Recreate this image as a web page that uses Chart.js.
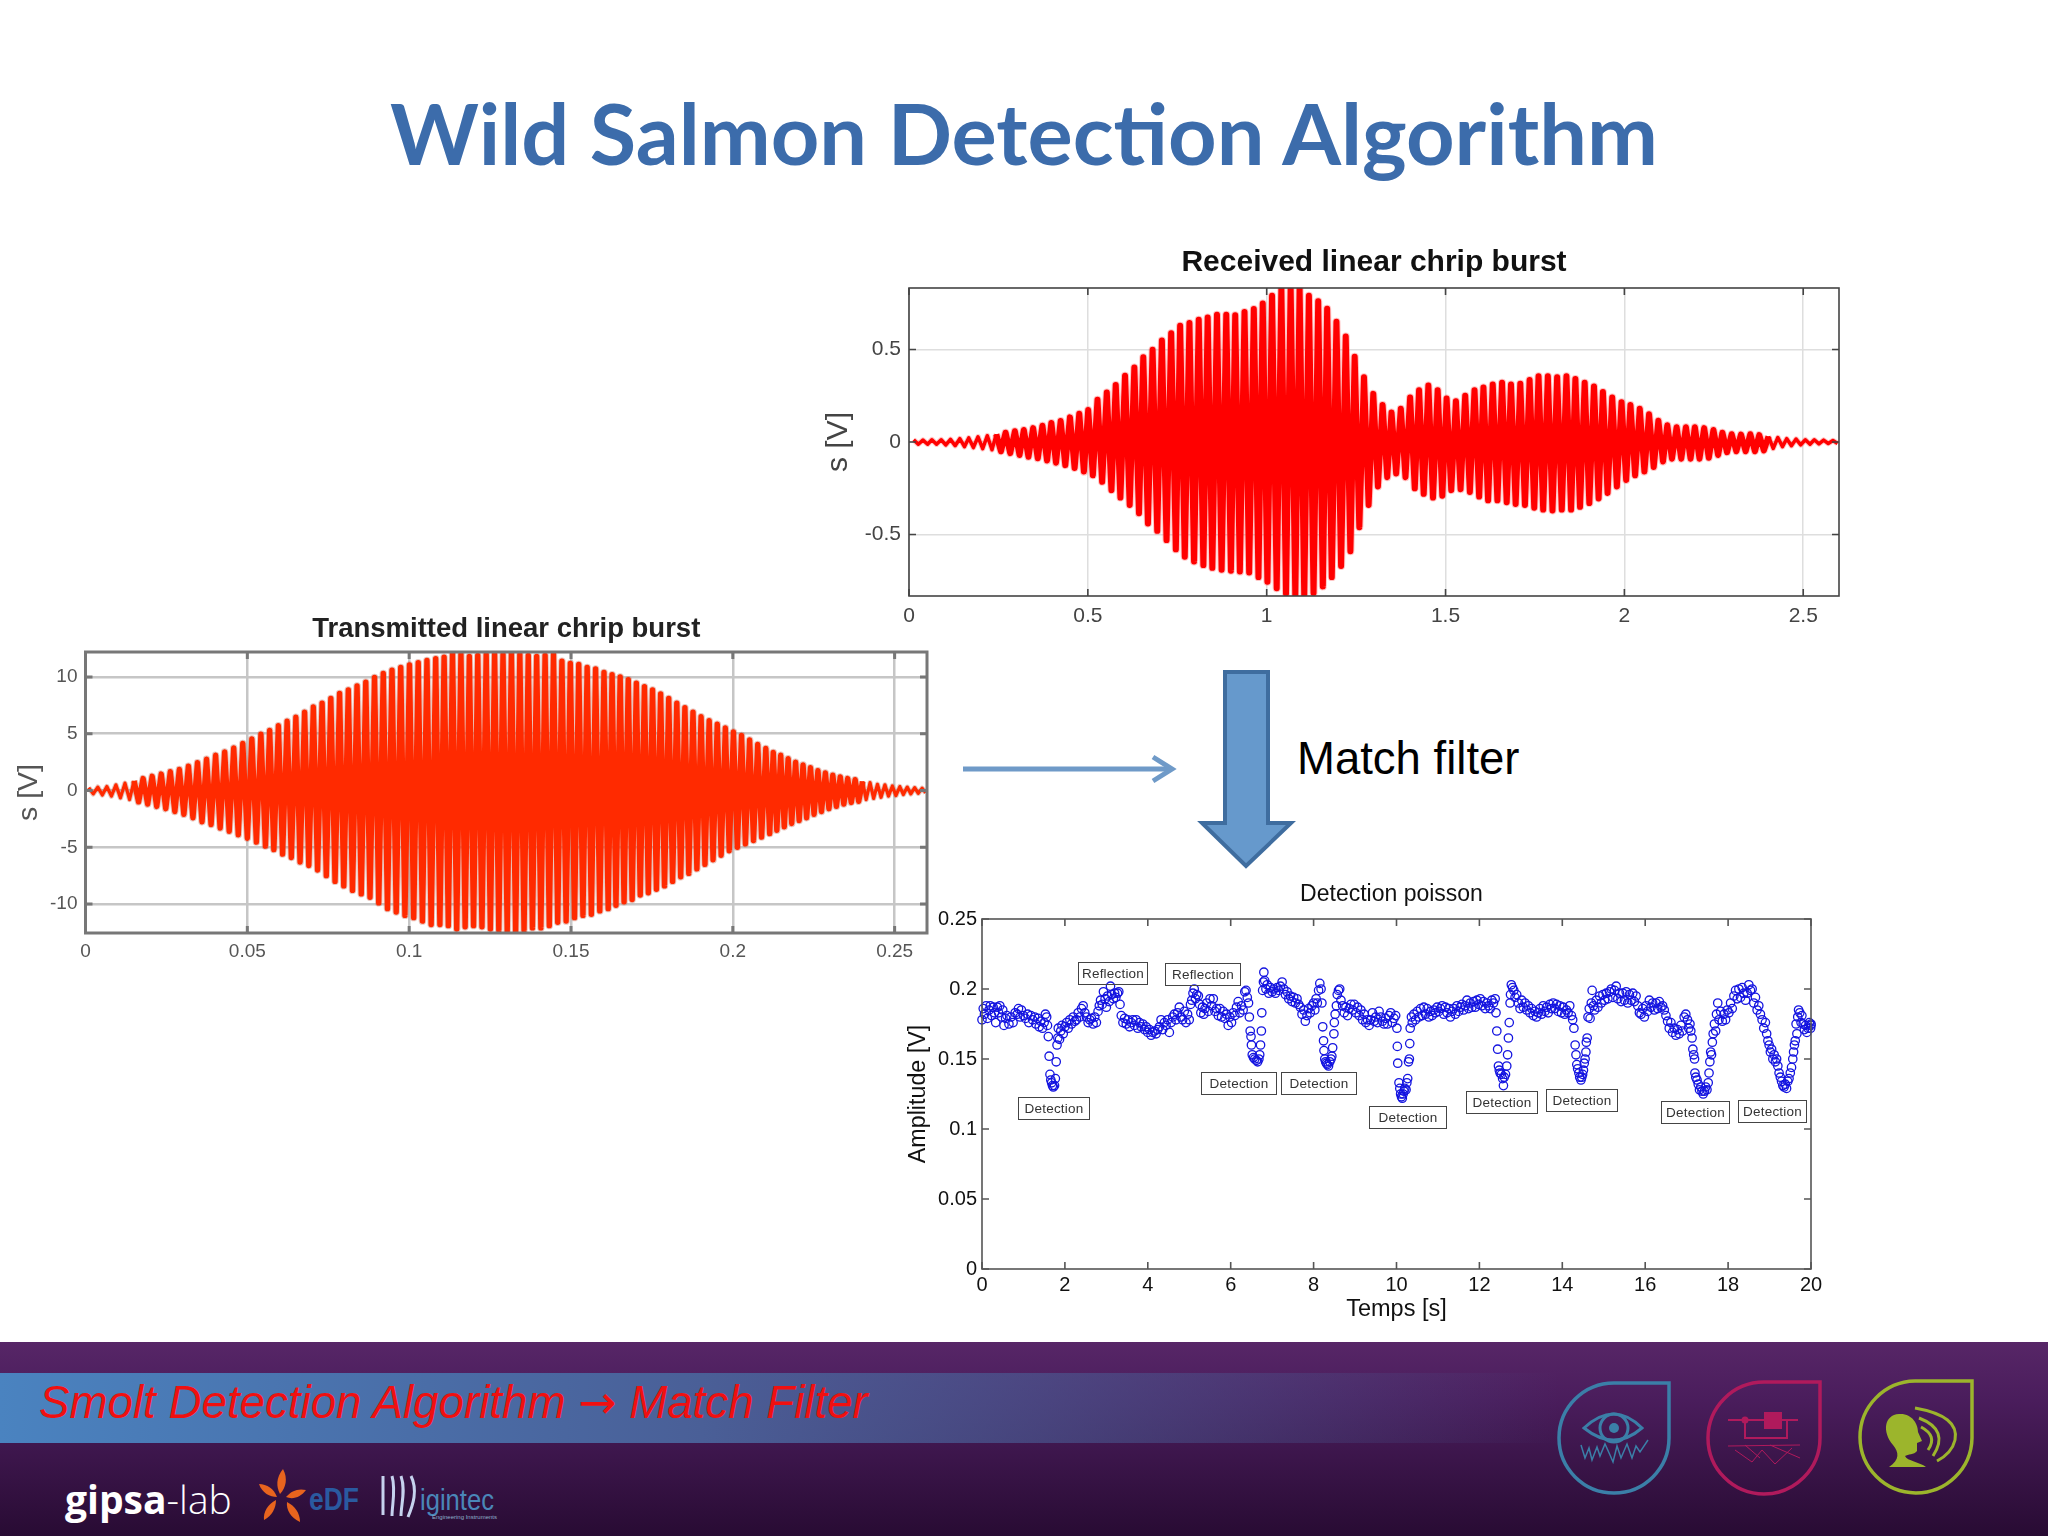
<!DOCTYPE html>
<html>
<head>
<meta charset="utf-8">
<script src="https://cdn.jsdelivr.net/npm/chart.js@4/dist/chart.umd.min.js"></script>
<style>
  html, body { margin: 0; padding: 0; background: #fff; }
  #page { position: relative; width: 2048px; height: 1536px; overflow: hidden; font-family: "Liberation Sans", Arial, sans-serif; }
  #page canvas { position: absolute; }
  #decor { position: absolute; left: 0; top: 0; }
  #title { position: absolute; left: 0; width: 2048px; top: 81px; text-align: center; font: 700 84.7px Lato, sans-serif; color: #3c6cab; white-space: nowrap; }
  .note { position: absolute; box-sizing: border-box; border: 1.5px solid #444; color: #333; font-size: 13.5px; letter-spacing: .2px; text-align: center; line-height: 21px; height: 23px; }
  #smolt { position: absolute; left: 39px; top: 1376px; font: italic 400 45.7px "Liberation Sans", sans-serif; color: #f01010; white-space: nowrap; }
  #smolt span { font-family: "DejaVu Sans"; }
</style>
</head>
<body>
<div id="page">
  <svg id="decor" width="2048" height="1536">
    <defs>
      <linearGradient id="foot" x1="0" y1="0" x2="0" y2="1">
        <stop offset="0" stop-color="#572667"/><stop offset=".3" stop-color="#4a1d5c"/><stop offset="1" stop-color="#280b33"/>
      </linearGradient>
      <linearGradient id="band" x1="0" y1="0" x2="1" y2="0">
        <stop offset="0" stop-color="#4a83c0"/><stop offset=".45" stop-color="#4a5f97"/><stop offset="1" stop-color="#4a5f97" stop-opacity="0"/>
      </linearGradient>
    </defs>
    <rect x="0" y="1342" width="2048" height="194" fill="url(#foot)"/>
    <rect x="0" y="1373" width="1560" height="70" fill="url(#band)"/>

    <!-- fleche + match filter -->
    <line x1="963" y1="769" x2="1168" y2="769" stroke="#6f9ac8" stroke-width="5"/>
    <path d="M1153 757 L1172 769 L1153 781" fill="none" stroke="#6f9ac8" stroke-width="5"/>
    <path d="M1225 672 H1268 V823 H1291 L1246 866 L1202 823 H1225 Z" fill="#6699cc" stroke="#3f6d9f" stroke-width="4"/>
    <text x="1297" y="774" font-size="45.5" fill="#000" font-family="Liberation Sans">Match filter</text>

    <!-- logos -->
    <text x="65" y="1514" font-size="39" fill="#fff" font-family="Open Sans"><tspan font-weight="700">gipsa</tspan><tspan font-weight="300">-lab</tspan></text>
    <g fill="#e8641e">
      <path d="M283 1469 C276 1478 276 1486 280 1494 C286 1488 288 1478 283 1469 Z"/>
      <path d="M259 1484 C262 1493 270 1497 277 1497 C274 1489 267 1484 259 1484 Z"/>
      <path d="M306 1490 C298 1488 291 1491 286 1497 C293 1500 301 1497 306 1490 Z"/>
      <path d="M264 1520 C272 1516 276 1508 276 1500 C268 1504 263 1512 264 1520 Z"/>
      <path d="M300 1522 C300 1513 295 1506 287 1502 C286 1510 291 1518 300 1522 Z"/>
    </g>
    <text x="309" y="1510" font-size="32" font-weight="700" fill="#2a5aa0" font-family="Liberation Sans" textLength="50" lengthAdjust="spacingAndGlyphs">eDF</text>
    <g fill="none" stroke="#c6d2ee" stroke-width="3">
      <path d="M383 1476 V1515"/><path d="M392 1476 C396 1490 392 1505 392 1516"/>
      <path d="M401 1476 C406 1490 401 1505 401 1516"/><path d="M411 1476 C418 1490 413 1505 408 1517"/>
    </g>
    <text x="420" y="1510" font-size="29" fill="#4a86b8" font-family="Liberation Sans" textLength="74" lengthAdjust="spacingAndGlyphs">igintec</text>
    <text x="432" y="1519" font-size="6" fill="#8fb0cc" font-family="Liberation Sans">Engineering Instruments</text>

    <!-- pictos -->
    <g fill="none" stroke-width="3.5">
      <path d="M1669 1383 H1614 A55 55 0 1 0 1669 1438 Z" stroke="#3b7fa8"/>
      <path d="M1820 1382 H1764 A56 56 0 1 0 1820 1438 Z" stroke="#b01a5c"/>
      <path d="M1972 1381 H1915 A56 56 0 1 0 1972 1438 Z" stroke="#9cb52c"/>
    </g>
    <g fill="none" stroke="#3b7fa8" stroke-width="3">
      <path d="M1584 1428 Q1614 1400 1642 1428 Q1614 1452 1584 1428 Z"/>
      <circle cx="1614" cy="1428" r="14"/>
      <path stroke-width="1.5" d="M1581 1445 L1585 1458 L1589 1448 L1592 1460 L1597 1447 L1600 1456 L1605 1444 L1610 1455 L1613 1462 L1617 1446 L1621 1458 L1627 1444 L1632 1458 L1636 1446 L1640 1452 L1648 1440"/>
    </g>
    <circle cx="1614" cy="1428" r="5" fill="#3b7fa8"/>
    <g fill="none" stroke="#b01a5c" stroke-width="2">
      <path d="M1728 1420 H1798"/><path d="M1745 1420 V1438 H1787 V1420"/>
      <path stroke-width="1" d="M1728 1446 L1800 1445 M1735 1450 L1752 1462 L1762 1450 L1775 1464 L1792 1448 M1745 1445 L1760 1458 M1770 1445 L1800 1458"/>
    </g>
    <circle cx="1745" cy="1420" r="3.5" fill="#b01a5c"/>
    <rect x="1764" y="1412" width="18" height="17" fill="#b01a5c"/>
    <path d="M1889 1467 C1900 1460 1899 1452 1893 1445 C1882 1432 1884 1415 1899 1414 C1912 1413 1918 1424 1918 1432 L1922 1441 L1917 1443 L1917 1451 C1914 1455 1908 1454 1905 1456 C1907 1461 1920 1462 1926 1467 Z" fill="#9cb52c"/>
    <g fill="none" stroke="#9cb52c" stroke-width="3">
      <path d="M1921 1427 Q1938 1436 1928 1450"/><path d="M1919 1418 Q1950 1430 1933 1456"/><path d="M1915 1408 Q1960 1416 1955 1440 Q1952 1453 1937 1461"/>
    </g>
  </svg>
  <div id="title">Wild Salmon Detection Algorithm</div>
  <div id="smolt">Smolt Detection Algorithm <span>→</span> Match Filter</div>

  <canvas id="recu" width="1045" height="388" style="left:824px;top:248px"></canvas>
  <canvas id="emis" width="932" height="357" style="left:15px;top:616px"></canvas>
  <canvas id="poisson" width="944" height="438" style="left:907px;top:883px"></canvas>

  <div class="note" style="left:1078px;top:962px;width:70px">Reflection</div>
  <div class="note" style="left:1165px;top:963px;width:76px">Reflection</div>
  <div class="note" style="left:1018px;top:1097px;width:72px">Detection</div>
  <div class="note" style="left:1201px;top:1072px;width:76px">Detection</div>
  <div class="note" style="left:1281px;top:1072px;width:76px">Detection</div>
  <div class="note" style="left:1369px;top:1106px;width:78px">Detection</div>
  <div class="note" style="left:1466px;top:1091px;width:72px">Detection</div>
  <div class="note" style="left:1546px;top:1089px;width:72px">Detection</div>
  <div class="note" style="left:1661px;top:1101px;width:69px">Detection</div>
  <div class="note" style="left:1738px;top:1100px;width:69px">Detection</div>
</div>

<script>
// Received linear chrip burst
const recuPicT = [.013,.039,.064,.09,.116,.142,.167,.193,.219,.244,.27,.296,.321,.347,.373,.398,.424,.45,.476,.501,
  .527,.553,.578,.604,.63,.655,.681,.707,.733,.758,.784,.81,.835,.861,.887,.912,.938,.964,.989,1.015,
  1.041,1.067,1.092,1.118,1.144,1.169,1.195,1.221,1.246,1.272,1.298,1.324,1.349,1.375,1.401,1.426,1.452,1.478,1.503,1.529,
  1.555,1.581,1.606,1.632,1.658,1.683,1.709,1.735,1.76,1.786,1.812,1.838,1.863,1.889,1.915,1.94,1.966,1.992,2.017,2.043,
  2.069,2.095,2.12,2.146,2.172,2.197,2.223,2.249,2.274,2.3,2.326,2.352,2.377,2.403,2.429,2.454,2.48,2.506,2.531,2.557,2.583];
const recuPic = [.012,.01,.012,.012,.014,.018,.022,.028,.034,.042,
  .05,.058,.065,.075,.088,.103,.113,.133,.153,.173,
  .228,.268,.308,.358,.403,.458,.498,.548,.588,.628,
  .643,.66,.673,.688,.688,.685,.703,.718,.748,.79,
  .83,.83,.83,.79,.76,.72,.65,.57,.46,.35,
  .26,.2,.16,.18,.24,.28,.305,.28,.235,.22,
  .25,.28,.295,.31,.32,.31,.315,.335,.355,.355,
  .35,.355,.34,.32,.3,.27,.24,.215,.2,.18,
  .15,.115,.09,.08,.08,.08,.075,.065,.05,.042,
  .04,.042,.037,.03,.024,.018,.016,.012,.012,.01,.008];
const recuCreuxT = [.026,.052,.077,.103,.129,.155,.18,.206,.232,.257,.283,.309,.334,.36,.386,.411,.437,.463,.489,.514,
  .54,.566,.591,.617,.643,.668,.694,.72,.746,.771,.797,.823,.848,.874,.9,.925,.951,.977,1.002,1.028,
  1.054,1.08,1.105,1.131,1.157,1.182,1.208,1.234,1.259,1.285,1.311,1.337,1.362,1.388,1.414,1.439,1.465,1.491,1.516,1.542,
  1.568,1.594,1.619,1.645,1.671,1.696,1.722,1.748,1.773,1.799,1.825,1.851,1.876,1.902,1.928,1.953,1.979,2.005,2.03,2.056,
  2.082,2.108,2.133,2.159,2.185,2.21,2.236,2.262,2.287,2.313,2.339,2.365,2.39,2.416,2.442,2.467,2.493,2.519,2.544,2.57,2.596];
const recuCreux = [-.012,-.012,-.012,-.016,-.02,-.025,-.03,-.036,-.042,-.05,
  -.06,-.07,-.08,-.088,-.1,-.112,-.125,-.14,-.16,-.18,
  -.215,-.26,-.3,-.34,-.385,-.44,-.48,-.53,-.58,-.62,
  -.645,-.665,-.68,-.69,-.695,-.7,-.705,-.73,-.755,-.79,
  -.82,-.83,-.83,-.815,-.78,-.73,-.67,-.59,-.46,-.34,
  -.24,-.19,-.17,-.19,-.25,-.28,-.3,-.29,-.26,-.255,
  -.27,-.295,-.315,-.315,-.325,-.335,-.34,-.355,-.365,-.37,
  -.365,-.365,-.35,-.33,-.305,-.275,-.24,-.205,-.18,-.16,
  -.135,-.105,-.09,-.09,-.09,-.09,-.085,-.07,-.055,-.05,
  -.05,-.05,-.045,-.035,-.025,-.02,-.015,-.012,-.01,-.008,-.008];
const recuTicksX = [0,.5,1,1.5,2,2.5];
const recuTicksY = [-.5,0,.5];

// Transmitted linear chrip burst
const emisPicT = [.001,.0038,.0066,.0094,.0122,.015,.0178,.0206,.0234,.0262,.029,.0318,.0346,.0374,.0402,.043,.0458,.0486,.0514,.0542,
  .0569,.0596,.0623,.065,.0677,.0704,.0731,.0758,.0785,.0812,.0839,.0866,.0893,.092,.0947,.0974,.1001,.1028,.1055,.1082,
  .1108,.1134,.116,.1186,.1212,.1238,.1264,.129,.1316,.1342,.1368,.1394,.142,.1446,.1472,.1498,.1524,.155,.1576,.1602,
  .1627,.1652,.1677,.1702,.1727,.1752,.1777,.1802,.1827,.1852,.1877,.1902,.1927,.1952,.1977,.2002,.2027,.2052,.2077,.2102,
  .2125,.2148,.2171,.2194,.2217,.224,.2263,.2286,.2309,.2332,.2355,.2378,.2401,.2424,.2447,.247,.2493,.2516,.2539,.2562,.2585];
const emisPic = [.25,.3,.35,.5,.65,.85,1.05,1.25,1.45,1.65,1.85,2.15,2.45,2.75,3.1,3.4,3.75,4.15,4.55,4.95,
  5.3,5.7,6.1,6.45,6.9,7.35,7.7,8.1,8.55,8.85,9.2,9.55,9.95,10.3,10.6,10.85,11.05,11.25,11.45,11.6,
  11.75,12.2,12,11.8,11.9,12,12,12,12.2,12,11.9,11.8,11.9,12,11.4,11.2,11.1,10.85,10.7,10.4,
  10.2,10,9.75,9.45,9.15,8.85,8.5,8.1,7.7,7.3,6.9,6.5,6.15,5.85,5.5,5.15,4.85,4.45,4.05,3.7,
  3.35,3.1,2.8,2.5,2.25,2,1.75,1.55,1.35,1.2,1.05,.95,.8,.7,.55,.5,.4,.35,.3,.25,.2];
const emisCreuxT = [.0024,.0052,.008,.0108,.0136,.0164,.0192,.022,.0248,.0276,.0304,.0332,.036,.0388,.0416,.0444,.0472,.05,.0528,.0556,
  .0582,.0609,.0636,.0663,.069,.0717,.0744,.0771,.0798,.0825,.0852,.0879,.0906,.0933,.096,.0987,.1014,.1041,.1068,.1095,
  .1121,.1147,.1173,.1199,.1225,.1251,.1277,.1303,.1329,.1355,.1381,.1407,.1433,.1459,.1485,.1511,.1537,.1563,.1589,.1615,
  .1639,.1664,.1689,.1714,.1739,.1764,.1789,.1814,.1839,.1864,.1889,.1914,.1939,.1964,.1989,.2014,.2039,.2064,.2089,.2114,
  .2136,.2159,.2182,.2205,.2228,.2251,.2274,.2297,.232,.2343,.2366,.2389,.2412,.2435,.2458,.2481,.2504,.2527,.255,.2573,.2596];
const emisCreux = [-.3,-.4,-.5,-.65,-.8,-1,-1.2,-1.4,-1.6,-1.85,-2.1,-2.4,-2.75,-3,-3.3,-3.6,-3.9,-4.2,-4.55,-4.9,
  -5.2,-5.6,-5.9,-6.3,-6.6,-7,-7.5,-8,-8.4,-8.8,-9.1,-9.4,-9.9,-10.4,-10.7,-11,-11.2,-11.5,-11.8,-11.8,
  -11.9,-12.2,-12,-11.9,-12,-12.2,-12.3,-12.4,-12.55,-12.3,-12.1,-12.1,-11.9,-11.6,-11.5,-11.2,-11,-10.9,-10.6,-10.4,
  -10.1,-9.8,-9.6,-9.2,-9,-8.7,-8.4,-8,-7.6,-7.3,-6.9,-6.5,-6.1,-5.7,-5.3,-5,-4.7,-4.4,-4.1,-3.8,
  -3.5,-3.2,-2.9,-2.65,-2.4,-2.1,-1.85,-1.6,-1.4,-1.2,-1.05,-.95,-.8,-.7,-.6,-.5,-.45,-.35,-.3,-.25,-.2];
const emisTicksX = [0,.05,.1,.15,.2,.25];
const emisTicksY = [-10,-5,0,5,10];

// Detection poisson
const temps = [
  0,.03,.06,.1,.13,.17,.2,.23,.27,.3, .33,.37,.4,.43,.47,.5,.53,.57,.6,.65,
  .7,.75,.8,.85,.88,.92,.95,1,1.05,1.1, 1.13,1.18,1.22,1.27,1.3,1.35,1.38,1.42,1.46,1.5,
  1.53,1.56,1.58,1.6,1.62,1.64,1.66,1.68,1.7,1.72, 1.75,1.77,1.79,1.81,1.83,1.84,1.87,1.9,1.93,1.96,
  2,2.04,2.08,2.12,2.16,2.2,2.24,2.28,2.32,2.36, 2.4,2.44,2.48,2.52,2.56,2.6,2.64,2.68,2.72,2.76,
  2.8,2.83,2.86,2.9,2.93,2.97,3,3.03,3.07,3.1, 3.13,3.17,3.2,3.23,3.27,3.3,3.33,3.36,3.4,3.44,
  3.48,3.52,3.56,3.6,3.64,3.68,3.72,3.76,3.8,3.84, 3.88,3.92,3.96,4,4.04,4.08,4.12,4.16,4.2,4.24,
  4.28,4.32,4.36,4.4,4.44,4.48,4.52,4.56,4.6,4.64, 4.68,4.72,4.76,4.8,4.84,4.88,4.92,4.96,5,5.03,
  5.06,5.09,5.12,5.15,5.18,5.22,5.25,5.28,5.32,5.35, 5.38,5.42,5.46,5.5,5.54,5.58,5.62,5.66,5.7,5.74,
  5.78,5.82,5.86,5.9,5.94,5.98,6.02,6.06,6.1,6.14, 6.18,6.22,6.26,6.3,6.34,6.37,6.4,6.43,6.45,6.47,
  6.49,6.5,6.52,6.55,6.58,6.62,6.65,6.68,6.7,6.72, 6.74,6.75,6.77,6.79,6.8,6.82,6.85,6.88,6.92,6.96,
  7,7.04,7.08,7.12,7.16,7.2,7.24,7.28,7.32,7.36, 7.4,7.44,7.48,7.52,7.56,7.6,7.64,7.68,7.72,7.76,
  7.8,7.84,7.88,7.92,7.96,8,8.03,8.06,8.09,8.12, 8.15,8.18,8.2,8.22,8.24,8.25,8.27,8.29,8.31,8.33,
  8.36,8.39,8.42,8.44,8.46,8.49,8.5,8.52,8.55,8.57, 8.6,8.63,8.66,8.7,8.74,8.78,8.82,8.86,8.9,8.94,
  8.98,9.02,9.06,9.1,9.14,9.18,9.22,9.26,9.3,9.34, 9.38,9.42,9.46,9.5,9.54,9.58,9.62,9.66,9.7,9.74,
  9.78,9.82,9.86,9.9,9.94,9.98,10.01,10.02,10.03,10.06, 10.08,10.1,10.12,10.14,10.16,10.18,10.2,10.23,10.25,10.27,
  10.29,10.31,10.32,10.33,10.36,10.38,10.42,10.46,10.5,10.54, 10.58,10.62,10.66,10.7,10.74,10.78,10.82,10.86,10.9,10.94,
  10.98,11.02,11.06,11.1,11.14,11.18,11.22,11.26,11.3,11.34, 11.38,11.42,11.46,11.5,11.54,11.58,11.62,11.66,11.7,11.74,
  11.78,11.82,11.86,11.9,11.94,11.98,12.02,12.06,12.1,12.14, 12.18,12.22,12.26,12.3,12.34,12.38,12.4,12.42,12.44,12.46,
  12.48,12.5,12.53,12.56,12.58,12.6,12.63,12.66,12.68,12.7, 12.72,12.74,12.75,12.77,12.8,12.83,12.86,12.9,12.94,12.98,
  13.02,13.06,13.1,13.14,13.18,13.22,13.26,13.3,13.34,13.38, 13.42,13.46,13.5,13.54,13.58,13.62,13.66,13.7,13.74,13.78,
  13.82,13.86,13.9,13.94,13.98,14.02,14.06,14.1,14.14,14.18, 14.22,14.25,14.28,14.31,14.33,14.35,14.37,14.4,14.42,14.45,
  14.47,14.49,14.51,14.53,14.55,14.57,14.58,14.6,14.62,14.65, 14.67,14.7,14.72,14.75,14.78,14.82,14.86,14.9,14.94,14.98,
  15.02,15.06,15.1,15.14,15.18,15.22,15.26,15.3,15.34,15.38, 15.42,15.46,15.5,15.54,15.58,15.62,15.66,15.7,15.74,15.78,
  15.82,15.86,15.9,15.94,15.98,16.02,16.06,16.1,16.14,16.18, 16.22,16.26,16.3,16.34,16.38,16.42,16.46,16.5,16.54,16.58,
  16.62,16.66,16.7,16.74,16.78,16.82,16.86,16.9,16.94,16.98, 17.02,17.05,17.08,17.1,17.13,17.15,17.17,17.19,17.2,17.22,
  17.25,17.28,17.31,17.34,17.37,17.4,17.43,17.46,17.49,17.52, 17.54,17.56,17.58,17.6,17.62,17.64,17.67,17.7,17.72,17.75,
  17.78,17.82,17.86,17.9,17.94,17.98,18.02,18.06,18.1,18.14, 18.18,18.22,18.26,18.3,18.34,18.38,18.42,18.46,18.5,18.54,
  18.58,18.62,18.66,18.7,18.74,18.78,18.82,18.86,18.9,18.93, 18.96,18.99,19.02,19.05,19.08,19.11,19.14,19.17,19.2,19.23,
  19.26,19.29,19.32,19.35,19.38,19.41,19.44,19.47,19.5,19.53, 19.56,19.58,19.6,19.62,19.64,19.66,19.68,19.7,19.73,19.76,
  19.78,19.81,19.84,19.87,19.9,19.93,19.96,19.99,20,20];
const amplitude = [
  .178,.186,.182,.188,.179,.185,.188,.181,.187,.183, .176,.187,.183,.188,.18,.185,.174,.179,.181,.175,
  .18,.176,.183,.182,.186,.18,.185,.181,.179,.182, .176,.181,.178,.18,.175,.179,.173,.177,.172,.176,
  .182,.18,.174,.166,.152,.139,.135,.133,.131,.13, .131,.136,.148,.16,.165,.172,.164,.17,.174,.168,
  .173,.176,.172,.178,.175,.18,.177,.178,.183,.18, .186,.188,.183,.18,.176,.178,.179,.175,.18,.176,
  .184,.188,.192,.189,.198,.193,.187,.195,.191,.202, .196,.193,.197,.194,.197,.198,.189,.181,.176,.179,
  .175,.178,.173,.176,.178,.174,.178,.172,.176,.173, .175,.171,.173,.169,.171,.167,.169,.17,.168,.171,
  .173,.178,.171,.176,.174,.178,.169,.176,.18,.182, .178,.183,.187,.18,.178,.184,.176,.182,.178,.189,
  .192,.197,.2,.193,.196,.195,.189,.183,.187,.182, .186,.19,.184,.193,.188,.193,.184,.186,.181,.186,
  .18,.184,.179,.182,.174,.18,.176,.183,.181,.187, .191,.183,.188,.185,.198,.199,.194,.19,.18,.17,
  .166,.16,.153,.151,.15,.149,.148,.15,.153,.16, .17,.183,.199,.205,.212,.206,.2,.203,.197,.201,
  .198,.2,.197,.201,.199,.202,.205,.2,.196,.198, .193,.195,.191,.194,.19,.193,.189,.187,.182,.185,
  .177,.181,.186,.183,.188,.19,.185,.193,.19,.199, .204,.2,.19,.173,.163,.156,.15,.148,.147,.146,
  .145,.148,.15,.152,.158,.168,.176,.182,.188,.196, .199,.2,.192,.188,.183,.187,.181,.186,.189,.185,
  .189,.183,.187,.181,.185,.178,.182,.176,.178,.174, .178,.183,.177,.18,.176,.184,.18,.177,.175,.179,
  .175,.181,.183,.176,.179,.181,.172,.159,.147,.133, .129,.125,.123,.122,.125,.127,.129,.128,.133,.136,
  .148,.15,.161,.172,.18,.176,.182,.178,.184,.18, .186,.181,.187,.182,.186,.18,.184,.181,.185,.183,
  .187,.184,.186,.188,.182,.187,.183,.186,.18,.184, .186,.182,.188,.184,.187,.189,.185,.188,.192,.186,
  .19,.187,.191,.187,.192,.189,.193,.188,.191,.186, .19,.188,.186,.192,.19,.193,.183,.17,.157,.145,
  .142,.14,.139,.136,.131,.137,.139,.145,.153,.165, .176,.19,.196,.203,.201,.199,.194,.196,.19,.186,
  .192,.187,.19,.185,.188,.183,.186,.181,.184,.18, .183,.186,.182,.188,.184,.187,.183,.189,.186,.19,
  .186,.189,.184,.188,.183,.187,.182,.185,.183,.188, .181,.178,.172,.16,.153,.146,.143,.14,.137,.135,
  .137,.139,.142,.147,.15,.155,.162,.165,.18,.186, .179,.19,.199,.188,.185,.192,.187,.195,.19,.196,
  .192,.197,.193,.198,.2,.194,.199,.202,.193,.197, .191,.197,.192,.198,.19,.196,.192,.197,.191,.195,
  .188,.183,.182,.186,.18,.188,.184,.192,.187,.19, .185,.19,.186,.191,.187,.188,.185,.181,.177,.172,
  .176,.169,.172,.167,.171,.168,.174,.17,.18,.182, .178,.172,.175,.17,.165,.157,.153,.15,.14,.137,
  .135,.132,.128,.13,.127,.125,.127,.13,.128,.133, .14,.148,.155,.153,.162,.168,.175,.17,.182,.19,
  .178,.184,.177,.182,.178,.185,.183,.19,.186,.195, .199,.193,.2,.194,.201,.197,.192,.197,.203,.199,
  .2,.19,.194,.185,.188,.182,.178,.172,.176,.168, .163,.16,.155,.157,.15,.153,.148,.15,.145,.14,
  .137,.134,.131,.13,.132,.129,.134,.136,.14,.144, .15,.155,.16,.163,.175,.168,.18,.185,.183,.176,
  .181,.175,.171,.174,.169,.172,.176,.172,.175,.174];
const tempsTicks = [0,2,4,6,8,10,12,14,16,18,20];
const ampTicks = [0,.05,.1,.15,.2,.25];

// cadre et petits traits vers l'interieur, facon matlab
const cadre = {
  id: 'cadre',
  afterLayout(chart, args, opts) {
    if (opts.titleShift) {
      chart.titleBlock.left += opts.titleShift;
      chart.titleBlock.right += opts.titleShift;
    }
  },
  afterDatasetsDraw(chart, args, opts) {
    const { ctx, chartArea: a, scales: { x, y } } = chart;
    ctx.save();
    ctx.strokeStyle = opts.color;
    ctx.lineWidth = opts.width;
    ctx.strokeRect(a.left, a.top, a.right - a.left, a.bottom - a.top);
    ctx.beginPath();
    x.ticks.forEach(t => {
      const p = x.getPixelForValue(t.value);
      ctx.moveTo(p, a.bottom); ctx.lineTo(p, a.bottom - opts.tick);
      ctx.moveTo(p, a.top); ctx.lineTo(p, a.top + opts.tick);
    });
    y.ticks.forEach(t => {
      const p = y.getPixelForValue(t.value);
      ctx.moveTo(a.left, p); ctx.lineTo(a.left + opts.tick, p);
      ctx.moveTo(a.right, p); ctx.lineTo(a.right - opts.tick, p);
    });
    ctx.stroke();
    ctx.restore();
  }
};

function zigzag(picT, pic, creuxT, creux) {
  return pic.flatMap((v, i) => [{ x: picT[i], y: v }, { x: creuxT[i], y: creux[i] }]);
}
function courbe(xs, ys) {
  return ys.map((v, i) => ({ x: xs[i], y: v }));
}

function graphique(id, c) {
  new Chart(document.getElementById(id), {
    type: 'scatter',
    data: { datasets: c.datasets },
    plugins: [cadre],
    options: {
      responsive: false,
      animation: false,
      devicePixelRatio: 1,
      layout: { padding: { left: 0, top: 0, bottom: 0, right: c.right } },
      plugins: {
        legend: { display: false },
        tooltip: { enabled: false },
        title: {
          display: true, text: c.title, fullSize: false, color: c.titleColor,
          font: { family: 'Liberation Sans', size: c.titleSize, weight: c.titleWeight, lineHeight: 1 },
          padding: { top: 0, bottom: c.titleGap }
        },
        cadre: c.frame
      },
      scales: {
        x: {
          type: 'linear', min: c.xMin, max: c.xMax,
          afterBuildTicks: s => { s.ticks = c.xTicks.map(v => ({ value: v })); },
          afterFit: s => { s.height = c.xHeight; },
          grid: { display: c.grid !== null, color: c.grid, lineWidth: c.gridWidth, drawTicks: false },
          border: { display: false },
          title: c.xTitle ? { display: true, text: c.xTitle, color: '#111', padding: 0, font: { family: 'Liberation Sans', size: 23.5, lineHeight: 1 } } : { display: false },
          ticks: { autoSkip: false, maxRotation: 0, minRotation: 0, padding: c.tickPad, color: c.tickColor,
            font: { family: 'Liberation Sans', size: c.tickSize }, callback: v => String(v) }
        },
        y: {
          type: 'linear', min: c.yMin, max: c.yMax,
          afterBuildTicks: s => { s.ticks = c.yTicks.map(v => ({ value: v })); },
          afterFit: s => { s.width = c.yWidth; },
          grid: { display: c.grid !== null, color: c.grid, lineWidth: c.gridWidth, drawTicks: false },
          border: { display: false },
          title: { display: true, text: c.yTitle, color: c.tickColor, padding: 0, font: { family: 'Liberation Sans', size: c.yTitleSize, lineHeight: 1 } },
          ticks: { autoSkip: false, padding: c.yTickPad, color: c.tickColor,
            font: { family: 'Liberation Sans', size: c.tickSize }, callback: v => String(v) }
        }
      }
    }
  });
}

// dataset 0 est dessine au dessus, le halo passe donc en dernier
// trait plus fin quand le signal est presque nul
function signal(rouge, largeur, fin, seuil, ligne, halo) {
  const mince = extra => ctx =>
    Math.abs(ctx.p0.parsed.y) < seuil && Math.abs(ctx.p1.parsed.y) < seuil ? fin + extra : largeur + extra;
  return [
    { data: ligne, showLine: true, pointRadius: 0, borderWidth: largeur, borderColor: rouge, borderJoinStyle: 'round', tension: 0, fill: false,
      segment: { borderWidth: mince(0) } },
    { data: ligne, showLine: true, pointRadius: 0, borderWidth: largeur + 2, borderColor: halo, borderJoinStyle: 'round', tension: 0, fill: false,
      segment: { borderWidth: mince(2) } }
  ];
}

graphique('recu', {
  title: 'Received linear chrip burst', titleSize: 30, titleWeight: 'bold', titleGap: 10, titleColor: '#111',
  datasets: signal('#ff0000', 6, 3.5, .045, zigzag(recuPicT, recuPic, recuCreuxT, recuCreux), 'rgba(255,90,90,.35)'),
  xMin: 0, xMax: 2.6, yMin: -.832, yMax: .832, xTicks: recuTicksX, yTicks: recuTicksY,
  xHeight: 40, yWidth: 85, right: 30, tickPad: 8, yTickPad: 8,
  tickSize: 21, tickColor: '#444', yTitle: 's [V]', yTitleSize: 30,
  grid: '#dedede', gridWidth: 1.5,
  frame: { color: '#444', width: 1.6, tick: 7 }
});

graphique('emis', {
  title: 'Transmitted linear chrip burst', titleSize: 27.5, titleWeight: 'bold', titleGap: 8.5, titleColor: '#222',
  datasets: signal('#ff2a00', 5.4, 3.2, .9, zigzag(emisPicT, emisPic, emisCreuxT, emisCreux), 'rgba(200,110,90,.4)'),
  xMin: 0, xMax: .26, yMin: -12.55, yMax: 12.2, xTicks: emisTicksX, yTicks: emisTicksY,
  xHeight: 40, yWidth: 70.5, right: 20, tickPad: 7, yTickPad: 8,
  tickSize: 19, tickColor: '#555', yTitle: 's [V]', yTitleSize: 28.5,
  grid: '#c6c6c6', gridWidth: 2.5,
  frame: { color: '#777', width: 3, tick: 7 }
});

graphique('poisson', {
  title: 'Detection poisson', titleSize: 23, titleWeight: 'normal', titleGap: 13, titleColor: '#111',
  datasets: [{ data: courbe(temps, amplitude), pointStyle: 'circle', pointRadius: 4.2, borderWidth: 1.3,
    borderColor: '#1414e0', backgroundColor: 'transparent', showLine: false, clip: false }],
  xMin: 0, xMax: 20, yMin: 0, yMax: .25, xTicks: tempsTicks, yTicks: ampTicks,
  xHeight: 52, yWidth: 75, right: 40, tickPad: 4, yTickPad: 5,
  tickSize: 20, tickColor: '#111', yTitle: 'Amplitude [V]', yTitleSize: 23.3, xTitle: 'Temps [s]',
  grid: null, gridWidth: 0,
  frame: { color: '#555', width: 1.6, tick: 7, titleShift: -5 }
});
</script>
</body>
</html>
